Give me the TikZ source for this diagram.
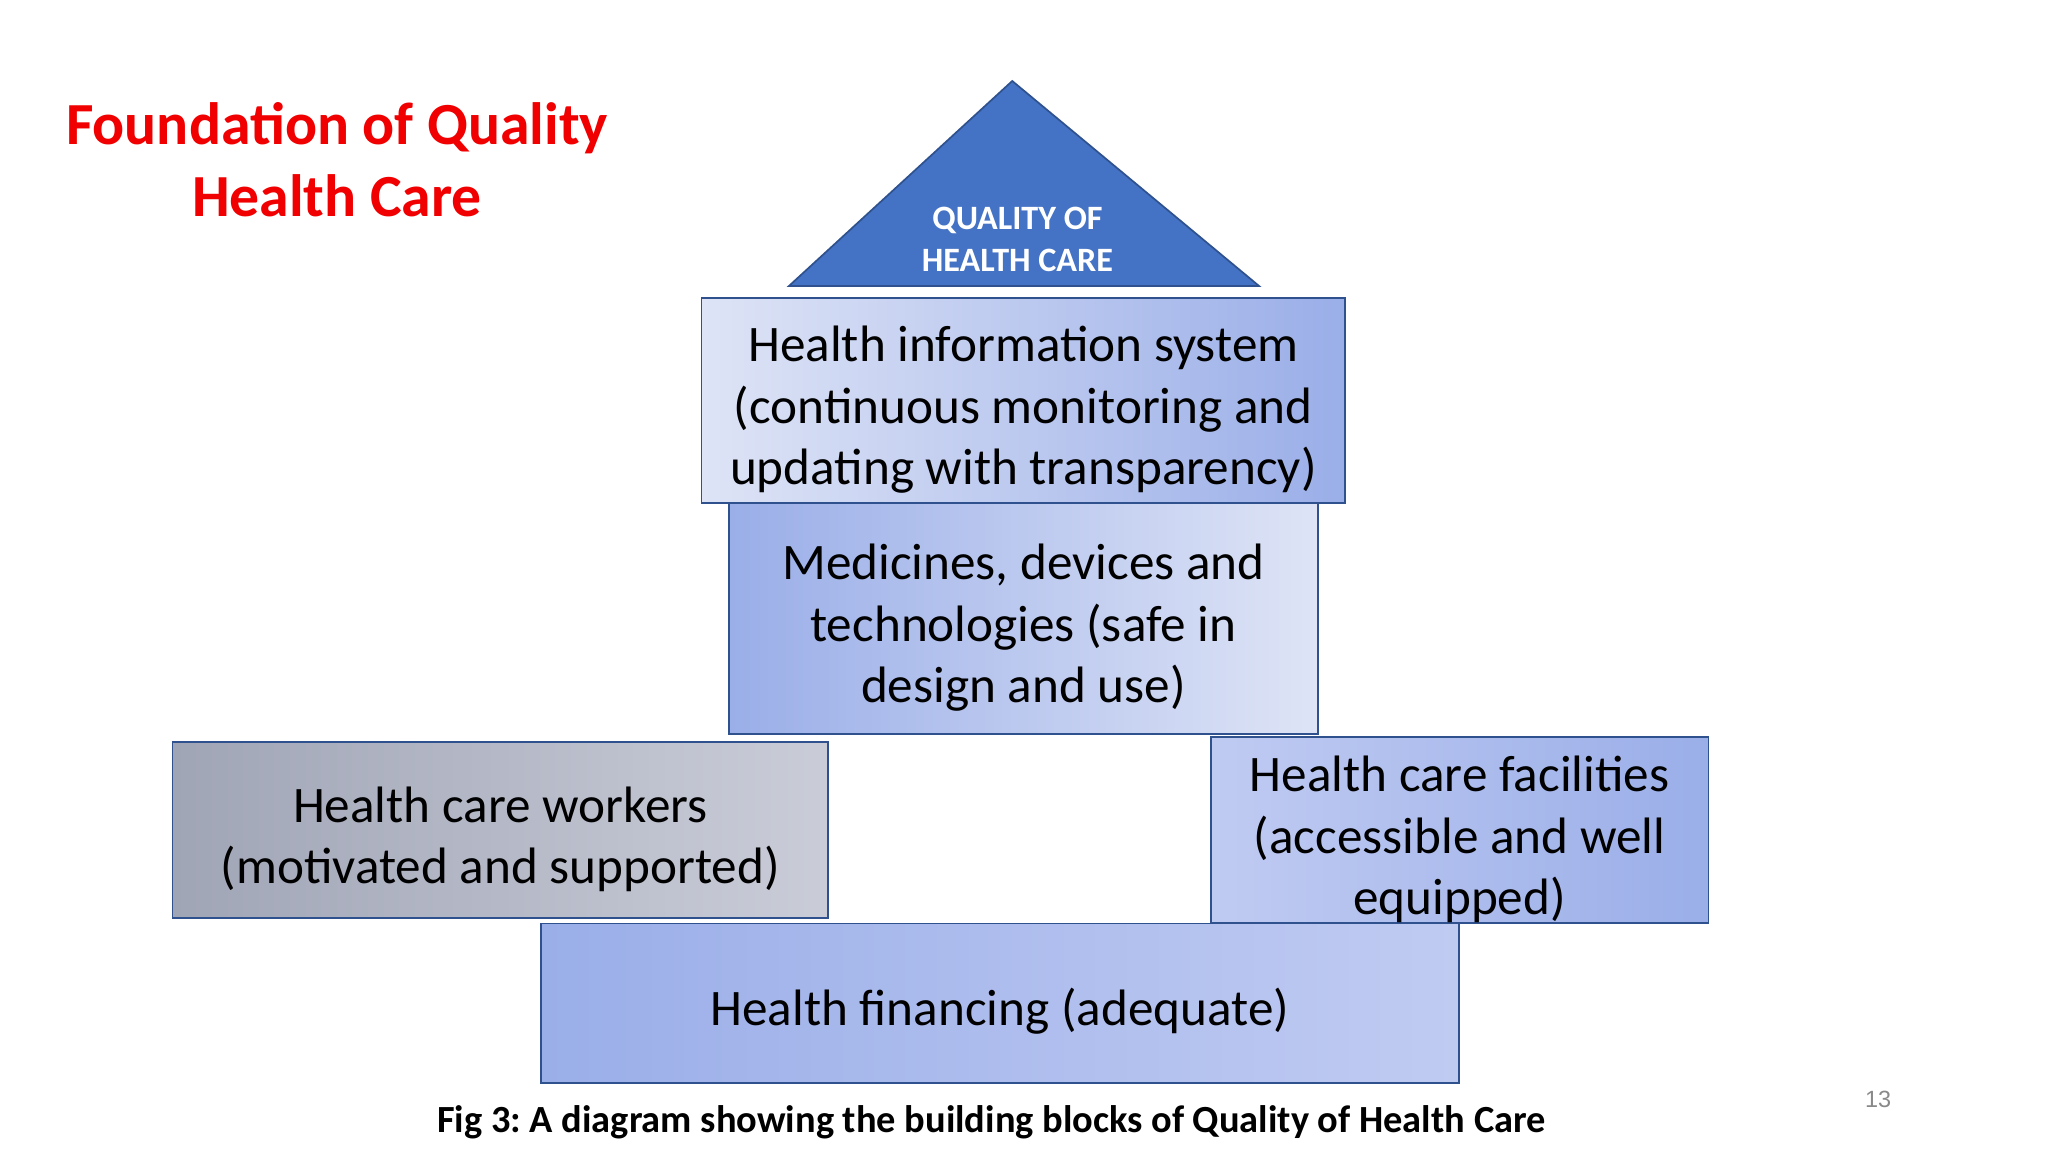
\documentclass[tikz,border=0pt]{standalone}
\usepackage{fontspec}
\setmainfont{Carlito}
\newfontfamily\numfont{Liberation Sans}
\usepackage{xcolor}
\definecolor{roofblue}{RGB}{68,114,196}
\definecolor{edgeblue}{RGB}{47,82,143}
\definecolor{paleblue}{RGB}{222,228,246}
\definecolor{midblue}{RGB}{154,174,232}
\definecolor{softblue}{RGB}{192,203,242}
\definecolor{slate}{RGB}{160,165,182}
\definecolor{mist}{RGB}{202,205,216}
\definecolor{titlered}{RGB}{240,0,0}
\definecolor{pagegray}{RGB}{137,137,137}
\newcommand{\pu}{0.6122pt}
\newcommand{\topgap}{\rule{0pt}{25.5pt}}
\frenchspacing

\begin{document}
\begin{tikzpicture}[x=\pu, y=-\pu,
    block/.style={draw=edgeblue, line width=0.8pt, align=center, inner sep=0pt,
                  font=\fontsize{24}{28.8}\selectfont},
    roof/.style={fill=roofblue, draw=edgeblue, line width=0.8pt, line join=miter}
  ]
  \useasboundingbox (0,0) rectangle (1568,882);

  % Title
  \node[align=center, text=titlered, font=\fontsize{28}{33.6}\selectfont\bfseries]
    (title) at (258,122.5) {Foundation of Quality\\Health Care};

  % Roof
  \draw[roof] (604,219) -- (775,62) -- (964,219) -- cycle;
  \node[align=center, text=white, font=\fontsize{16}{19.6}\selectfont\bfseries]
    (quality) at (779,183) {QUALITY OF\\HEALTH CARE};

  % Blocks
  \node[block, minimum width=451*\pu, minimum height=177*\pu,
        left color=midblue, right color=paleblue] (med) at (783.5,473.5)
    {\topgap Medicines, devices and\\technologies (safe in\\design and use)};
  \node[block, minimum width=493*\pu, minimum height=157*\pu,
        left color=paleblue, right color=midblue] (his) at (783.5,306.5)
    {\topgap Health information system\\(continuous monitoring and\\updating with transparency)};
  \node[block, minimum width=502*\pu, minimum height=135*\pu,
        left color=slate, right color=mist] (workers) at (383,635.5)
    {\topgap Health care workers\\(motivated and supported)};
  \node[block, minimum width=703*\pu, minimum height=122*\pu,
        left color=midblue, right color=softblue] (finance) at (765.5,768)
    {\topgap Health financing (adequate)};
  \node[block, minimum width=381*\pu, minimum height=139*\pu,
        left color=softblue, right color=midblue] (facilities) at (1117.5,635.5)
    {\topgap Health care facilities\\(accessible and well\\equipped)};

  % Caption
  \node[font=\fontsize{18}{21.6}\selectfont\bfseries] (caption) at (759,859)
    {Fig 3: A diagram showing the building blocks of Quality of Health Care};
  \node[text=pagegray, font=\numfont\fontsize{11}{13}\selectfont] (page) at (1438,842) {13};
\end{tikzpicture}
\end{document}
